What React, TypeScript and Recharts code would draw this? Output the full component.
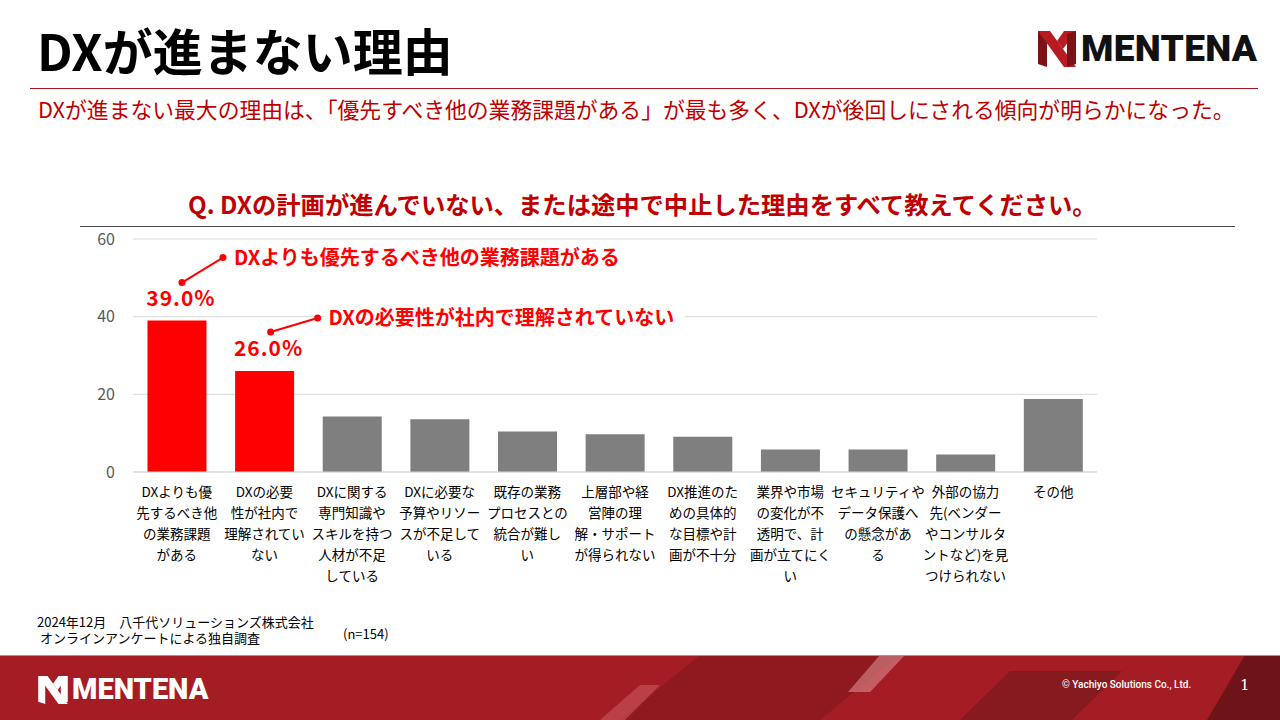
import { BarChart, Bar, XAxis, YAxis, CartesianGrid, Cell, LabelList } from 'recharts';

// category labels, already broken into lines the way the slide wraps them
const categoryLines: string[][] = [
  ['DXよりも優', '先するべき他', 'の業務課題', 'がある'],
  ['DXの必要', '性が社内で', '理解されてい', 'ない'],
  ['DXに関する', '専門知識や', 'スキルを持つ', '人材が不足', 'している'],
  ['DXに必要な', '予算やリソー', 'スが不足して', 'いる'],
  ['既存の業務', 'プロセスとの', '統合が難し', 'い'],
  ['上層部や経', '営陣の理', '解・サポート', 'が得られない'],
  ['DX推進のた', 'めの具体的', 'な目標や計', '画が不十分'],
  ['業界や市場', 'の変化が不', '透明で、計', '画が立てにく', 'い'],
  ['セキュリティや', 'データ保護へ', 'の懸念があ', 'る'],
  ['外部の協力', '先(ベンダー', 'やコンサルタ', 'ントなど)を見', 'つけられない'],
  ['その他'],
];
const categories = categoryLines.map((l) => l.join(''));
const values = [39.0, 26.0, 14.3, 13.6, 10.4, 9.7, 9.1, 5.8, 5.8, 4.5, 18.8];
const yTicks = [0, 20, 40, 60];
const callouts = ['DXよりも優先するべき他の業務課題がある', 'DXの必要性が社内で理解されていない'];

const RED = '#ff0000';
const GRAY = '#7f7f7f';
const DARK_RED = '#c00000';
const FONT = '"Noto Sans CJK JP", "Noto Sans", sans-serif';

const data = categories.map((name, i) => ({ name, value: values[i], lines: categoryLines[i] }));

// offsets of the callout leader line, relative to bar top centre
const calloutOffsets = [
  { d1x: 5, d1y: -38, d2x: 46, d2y: -63, tx: 57 },
  { d1x: 6, d1y: -39, d2x: 53, d2y: -53, tx: 64 },
];

function CategoryTick(props: any) {
  const { x, y, payload } = props;
  const lines = categoryLines[payload.index] ?? [payload.value];
  return (
    <g transform={`translate(${x},${y})`}>
      {lines.map((line: string, i: number) => (
        <text key={i} x={0} y={i * 21} dy={4} textAnchor="middle" fontSize={13.5} fill="#000" fontFamily={FONT}>
          {line}
        </text>
      ))}
    </g>
  );
}

function Callout(props: any) {
  const { x, y, width, value, index } = props;
  if (index == null || index > 1) return null;
  const cx = x + width / 2;
  const o = calloutOffsets[index];
  return (
    <g fontFamily={FONT}>
      <text x={cx + 4} y={y - 22} dy="0.35em" textAnchor="middle" fontSize={21} fontWeight="bold" fill={RED} letterSpacing={1}>
        {Number(value).toFixed(1)}%
      </text>
      <line x1={cx + o.d1x} y1={y + o.d1y} x2={cx + o.d2x} y2={y + o.d2y} stroke={RED} strokeWidth={2} />
      <circle cx={cx + o.d1x} cy={y + o.d1y} r={3.5} fill={RED} />
      <circle cx={cx + o.d2x} cy={y + o.d2y} r={3.5} fill={RED} />
      <rect x={cx + o.tx - 4} y={y + o.d2y - 14} width={callouts[index].length * 20} height={28} fill="#fff" />
      <text x={cx + o.tx} y={y + o.d2y} dy="0.35em" fontSize={20} fontWeight="bold" fill={RED}>
        {callouts[index]}
      </text>
    </g>
  );
}

function MarkIcon({ fill1, fill2 }: { fill1: string; fill2: string }) {
  return (
    <svg width={38} height={36} viewBox="0 0 38 36">
      <polygon points="0,0 9,3 9,36 0,33" fill={fill2} />
      <polygon points="0,0 12,0 38,36 26,36" fill={fill1} />
      <polygon points="38,0 26,0 19,10 25,18" fill={fill1} />
      <polygon points="38,0 29,3 29,36 38,33" fill={fill2} />
    </svg>
  );
}

export default function App() {
  return (
    <div style={{ position: 'absolute', left: 0, top: 0, width: 1280, height: 720, background: '#fff', fontFamily: FONT, overflow: 'hidden' }}>
      {/* header */}
      <div style={{ position: 'absolute', left: 37, top: 22, fontSize: 50, fontWeight: 'bold', lineHeight: 1.1, color: '#000' }}>
        DXが進まない理由
      </div>
      <div style={{ position: 'absolute', left: 1038, top: 30, display: 'flex', alignItems: 'center' }}>
        <MarkIcon fill1="#b71c22" fill2="#7a1216" />
        <span style={{ marginLeft: 5, fontFamily: 'Roboto, sans-serif', fontWeight: 900, fontSize: 37, letterSpacing: 0.3, color: '#111', lineHeight: 1 }}>
          MENTENA
        </span>
      </div>
      <div style={{ position: 'absolute', left: 30, top: 88, width: 1228, height: 1, background: '#a5161c' }} />
      <div style={{ position: 'absolute', left: 38, top: 96, fontSize: 21.8, color: DARK_RED, lineHeight: 1.2, whiteSpace: 'nowrap' }}>
        DXが進まない最大の理由は、「優先すべき他の業務課題がある」が最も多く、DXが後回しにされる傾向が明らかになった。
      </div>

      {/* question */}
      <div style={{ position: 'absolute', left: 188, top: 189, fontSize: 24.3, fontWeight: 'bold', color: DARK_RED, lineHeight: 1.2, whiteSpace: 'nowrap' }}>
        Q. DXの計画が進んでいない、または途中で中止した理由をすべて教えてください。
      </div>
      <div style={{ position: 'absolute', left: 80, top: 226, width: 1155, height: 1, background: '#4a4a55' }} />

      {/* chart */}
      <div style={{ position: 'absolute', left: 80, top: 227 }}>
        <BarChart width={1030} height={375} data={data} margin={{ top: 12, right: 13, left: 0, bottom: 0 }} barCategoryGap="16.5%">
          <CartesianGrid vertical={false} stroke="#d9d9d9" />
          <XAxis
            dataKey="name"
            interval={0}
            height={130}
            axisLine={{ stroke: '#d9d9d9' }}
            tickLine={false}
            tickSize={0}
            tickMargin={21}
            tick={<CategoryTick />}
          />
          <YAxis
            width={53}
            domain={[0, 60]}
            ticks={yTicks}
            axisLine={false}
            tickLine={false}
            tickSize={0}
            tickMargin={18}
            tick={{ fill: '#595959', fontSize: 16, fontFamily: FONT }}
          />
          <Bar dataKey="value" isAnimationActive={false}>
            {data.map((_, i) => (
              <Cell key={i} fill={i < 2 ? RED : GRAY} />
            ))}
            <LabelList dataKey="value" content={<Callout />} />
          </Bar>
        </BarChart>
      </div>

      {/* source */}
      <div style={{ position: 'absolute', left: 37, top: 614, fontSize: 13, color: '#000', lineHeight: '16px', whiteSpace: 'pre' }}>
        {'2024年12月　八千代ソリューションズ株式会社\n オンラインアンケートによる独自調査'}
      </div>
      <div style={{ position: 'absolute', left: 343, top: 624, fontSize: 13, color: '#000' }}>(n=154)</div>

      {/* footer */}
      <svg style={{ position: 'absolute', left: 0, top: 655 }} width={1280} height={65}>
        <rect x={0} y={0} width={1280} height={65} fill="#a51d24" />
        <polygon points="620,65 700,0 900,0 820,65" fill="#8e1a20" />
        <polygon points="600,65 640,30 660,30 625,65" fill="#c9595d" opacity={0.6} />
        <polygon points="848,37 880,0 905,0 870,37" fill="#d98a8d" opacity={0.6} />
        <polygon points="960,65 1010,16 1122,16 1072,65" fill="#861a1f" />
        <polygon points="1207,65 1245,0 1280,0 1280,65" fill="#6e1418" />
        <rect x={0} y={0} width={1280} height={1} fill="#9a9a9a" />
      </svg>
      <div style={{ position: 'absolute', left: 38, top: 675, display: 'flex', alignItems: 'center' }}>
        <svg width={30} height={28} viewBox="0 0 38 36">
          <polygon points="0,0 9,3 9,36 0,33" fill="#fff" />
          <polygon points="0,0 12,0 38,36 26,36" fill="#fff" />
          <polygon points="38,0 26,0 19,10 25,18" fill="#fff" />
          <polygon points="38,0 29,3 29,36 38,33" fill="#fff" />
        </svg>
        <span style={{ marginLeft: 4, fontFamily: 'Roboto, sans-serif', fontWeight: 900, fontSize: 29, color: '#fff', lineHeight: 1 }}>
          MENTENA
        </span>
      </div>
      <div style={{ position: 'absolute', left: 1062, top: 679, fontSize: 10, color: '#fff', fontFamily: 'Roboto, sans-serif', fontWeight: 500 }}>
        © Yachiyo Solutions Co., Ltd.
      </div>
      <div style={{ position: 'absolute', left: 1240, top: 676, fontSize: 15, color: '#fff', fontFamily: '"DejaVu Serif", serif' }}>1</div>
    </div>
  );
}
